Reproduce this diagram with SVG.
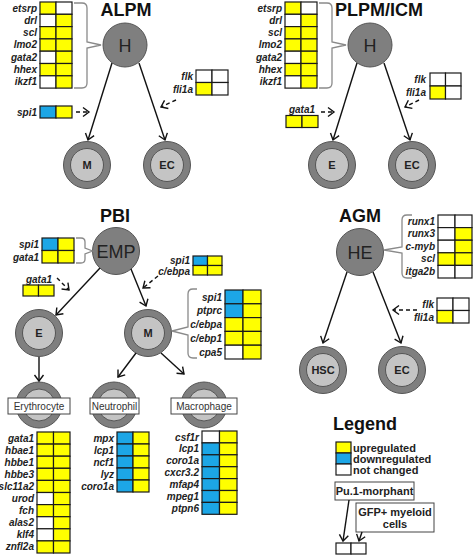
<svg xmlns="http://www.w3.org/2000/svg" width="474" height="557" viewBox="0 0 474 557">
<defs>
<marker id="ah" viewBox="-8 -6 10 12" markerWidth="10" markerHeight="12" refX="0" refY="0" orient="auto" markerUnits="userSpaceOnUse">
<path d="M-6,-4.5 L0,0 L-6,4.5" fill="none" stroke="#111" stroke-width="1.4"/>
</marker>
<style>
.y{fill:#ffff00;stroke:#1a1a1a;stroke-width:1.2}
.b{fill:#1ca6e6;stroke:#1a1a1a;stroke-width:1.2}
.w{fill:#ffffff;stroke:#1a1a1a;stroke-width:1.2}
.g{font-family:"Liberation Sans",Arial,sans-serif;font-size:10px;font-weight:bold;font-style:italic;fill:#222;text-anchor:end}
.gm{font-family:"Liberation Sans",Arial,sans-serif;font-size:10px;font-weight:bold;font-style:italic;fill:#222;text-anchor:middle}
.title{font-family:"Liberation Sans",Arial,sans-serif;font-size:18px;font-weight:bold;fill:#111;text-anchor:middle}
.big{font-family:"Liberation Sans",Arial,sans-serif;font-size:18px;fill:#222;text-anchor:middle}
.lbl{font-family:"Liberation Sans",Arial,sans-serif;font-size:11px;font-weight:bold;fill:#222;text-anchor:middle}
.box{font-family:"Liberation Sans",Arial,sans-serif;font-size:10px;fill:#333;text-anchor:middle}
.leg{font-family:"Liberation Sans",Arial,sans-serif;font-size:11px;font-weight:bold;fill:#222}
.legc{font-family:"Liberation Sans",Arial,sans-serif;font-size:11px;font-weight:bold;fill:#222;text-anchor:middle}
.sc{fill:#7f7f7f;stroke:#555;stroke-width:1}
.oc{fill:#7f7f7f;stroke:#555;stroke-width:1}
.ic{fill:#c4c4c4;stroke:#555;stroke-width:1}
.br{fill:none;stroke:#8a8a8a;stroke-width:1.3}
.ln{fill:none;stroke:#111;stroke-width:1.4}
.ds{fill:none;stroke:#111;stroke-width:1.4;stroke-dasharray:4,3}
.lb{fill:#fff;stroke:#444;stroke-width:1}
</style>
</defs>

<!-- ===== ALPM ===== -->
<g id="alpm">
<text class="title" x="126" y="16">ALPM</text>
<g id="alpm-table">
<rect class="y" x="40" y="2" width="16" height="12.3"/><rect class="w" x="56" y="2" width="16" height="12.3"/>
<rect class="w" x="40" y="14.3" width="16" height="12.3"/><rect class="y" x="56" y="14.3" width="16" height="12.3"/>
<rect class="y" x="40" y="26.6" width="16" height="12.3"/><rect class="y" x="56" y="26.6" width="16" height="12.3"/>
<rect class="y" x="40" y="38.9" width="16" height="12.3"/><rect class="y" x="56" y="38.9" width="16" height="12.3"/>
<rect class="w" x="40" y="51.2" width="16" height="12.3"/><rect class="y" x="56" y="51.2" width="16" height="12.3"/>
<rect class="y" x="40" y="63.5" width="16" height="12.3"/><rect class="y" x="56" y="63.5" width="16" height="12.3"/>
<rect class="w" x="40" y="75.8" width="16" height="12.3"/><rect class="y" x="56" y="75.8" width="16" height="12.3"/>
<text class="g" x="37" y="11.5">etsrp</text>
<text class="g" x="37" y="23.8">drl</text>
<text class="g" x="37" y="36.1">scl</text>
<text class="g" x="37" y="48.4">lmo2</text>
<text class="g" x="37" y="60.7">gata2</text>
<text class="g" x="37" y="73">hhex</text>
<text class="g" x="37" y="85.3">ikzf1</text>
<path class="br" d="M74,3 H82 Q87,3 87,8 V42 L101,45 L87,48 V83 Q87,88 82,88 H74"/>
</g>
<g id="alpm-H"><circle class="sc" cx="125" cy="45" r="22"/><text class="big" x="125" y="51.5">H</text></g>
<g id="alpm-flk">
<rect class="w" x="196" y="70" width="16" height="12.5"/><rect class="w" x="212" y="70" width="16" height="12.5"/>
<rect class="y" x="196" y="82.5" width="16" height="12.5"/><rect class="w" x="212" y="82.5" width="16" height="12.5"/>
<text class="g" x="193" y="80">flk</text>
<text class="g" x="193" y="92.5">fli1a</text>
</g>
<g id="alpm-spi1">
<rect class="b" x="40" y="106" width="16" height="12"/><rect class="y" x="56" y="106" width="16" height="12"/>
<text class="g" x="37" y="115.5">spi1</text>
</g>
<g id="alpm-M"><circle class="oc" cx="87" cy="165" r="23.5"/><circle class="ic" cx="87" cy="165" r="16.5"/><text class="lbl" x="87" y="169">M</text></g>
<g id="alpm-EC"><circle class="oc" cx="167" cy="165" r="23.5"/><circle class="ic" cx="167" cy="165" r="16.5"/><text class="lbl" x="167" y="169">EC</text></g>
</g>

<!-- ===== PLPM/ICM ===== -->
<g id="plpm">
<text class="title" x="379" y="16">PLPM/ICM</text>
<g id="plpm-table">
<rect class="y" x="285" y="2" width="16" height="12.3"/><rect class="w" x="301" y="2" width="16" height="12.3"/>
<rect class="w" x="285" y="14.3" width="16" height="12.3"/><rect class="y" x="301" y="14.3" width="16" height="12.3"/>
<rect class="y" x="285" y="26.6" width="16" height="12.3"/><rect class="y" x="301" y="26.6" width="16" height="12.3"/>
<rect class="y" x="285" y="38.9" width="16" height="12.3"/><rect class="y" x="301" y="38.9" width="16" height="12.3"/>
<rect class="w" x="285" y="51.2" width="16" height="12.3"/><rect class="y" x="301" y="51.2" width="16" height="12.3"/>
<rect class="y" x="285" y="63.5" width="16" height="12.3"/><rect class="y" x="301" y="63.5" width="16" height="12.3"/>
<rect class="w" x="285" y="75.8" width="16" height="12.3"/><rect class="y" x="301" y="75.8" width="16" height="12.3"/>
<text class="g" x="282" y="11.5">etsrp</text>
<text class="g" x="282" y="23.8">drl</text>
<text class="g" x="282" y="36.1">scl</text>
<text class="g" x="282" y="48.4">lmo2</text>
<text class="g" x="282" y="60.7">gata2</text>
<text class="g" x="282" y="73">hhex</text>
<text class="g" x="282" y="85.3">ikzf1</text>
<path class="br" d="M319,3 H327 Q332,3 332,8 V42 L346,45 L332,48 V83 Q332,88 327,88 H319"/>
</g>
<g id="plpm-H"><circle class="sc" cx="370" cy="45" r="22"/><text class="big" x="370" y="51.5">H</text></g>
<g id="plpm-flk">
<rect class="w" x="430" y="73" width="15.5" height="13"/><rect class="w" x="445.5" y="73" width="15.5" height="13"/>
<rect class="y" x="430" y="86" width="15.5" height="13"/><rect class="w" x="445.5" y="86" width="15.5" height="13"/>
<text class="g" x="426" y="83">flk</text>
<text class="g" x="426" y="96">fli1a</text>
</g>
<g id="plpm-gata1">
<rect class="y" x="286" y="115.5" width="16" height="12"/><rect class="y" x="302" y="115.5" width="16" height="12"/>
<text class="gm" x="302" y="113">gata1</text>
</g>
<g id="plpm-E"><circle class="oc" cx="332" cy="165" r="23.5"/><circle class="ic" cx="332" cy="165" r="16.5"/><text class="lbl" x="332" y="169">E</text></g>
<g id="plpm-EC"><circle class="oc" cx="412" cy="165" r="23.5"/><circle class="ic" cx="412" cy="165" r="16.5"/><text class="lbl" x="412" y="169">EC</text></g>
</g>

<!-- ===== PBI ===== -->
<g id="pbi">
<text class="title" x="115" y="222">PBI</text>
<g id="pbi-EMP"><circle class="sc" cx="116" cy="251" r="23.5"/><text class="big" x="116" y="257.5">EMP</text></g>
<g id="pbi-emp-table">
<rect class="b" x="42" y="238" width="16" height="12.5"/><rect class="y" x="58" y="238" width="16" height="12.5"/>
<rect class="y" x="42" y="250.5" width="16" height="12.5"/><rect class="y" x="58" y="250.5" width="16" height="12.5"/>
<text class="g" x="39" y="248">spi1</text>
<text class="g" x="39" y="260.5">gata1</text>
<path class="br" d="M76,238 H81 Q85,238 85,242 V248 L92.5,251 L85,254 V259 Q85,263 81,263 H76"/>
</g>
<g id="pbi-gata1">
<rect class="y" x="23" y="285" width="15.5" height="11"/><rect class="y" x="38.5" y="285" width="15.5" height="11"/>
<text class="gm" x="39" y="282.5">gata1</text>
</g>
<g id="pbi-spi1-cebpa">
<rect class="b" x="193" y="256" width="14.5" height="9.5"/><rect class="y" x="207.5" y="256" width="14.5" height="9.5"/>
<rect class="y" x="193" y="265.5" width="14.5" height="9.5"/><rect class="y" x="207.5" y="265.5" width="14.5" height="9.5"/>
<text class="g" x="190" y="264">spi1</text>
<text class="g" x="190" y="274.5">c/ebpa</text>
</g>
<g id="pbi-E"><circle class="oc" cx="39" cy="333" r="23.5"/><circle class="ic" cx="39" cy="333" r="16.5"/><text class="lbl" x="39" y="337">E</text></g>
<g id="pbi-M"><circle class="oc" cx="148" cy="333" r="23.5"/><circle class="ic" cx="148" cy="333" r="16.5"/><text class="lbl" x="148" y="337">M</text></g>
<g id="pbi-m-table">
<rect class="b" x="225" y="290" width="18" height="13.8"/><rect class="y" x="243" y="290" width="18" height="13.8"/>
<rect class="b" x="225" y="303.8" width="18" height="13.8"/><rect class="y" x="243" y="303.8" width="18" height="13.8"/>
<rect class="y" x="225" y="317.6" width="18" height="13.8"/><rect class="y" x="243" y="317.6" width="18" height="13.8"/>
<rect class="y" x="225" y="331.4" width="18" height="13.8"/><rect class="y" x="243" y="331.4" width="18" height="13.8"/>
<rect class="w" x="225" y="345.2" width="18" height="13.8"/><rect class="y" x="243" y="345.2" width="18" height="13.8"/>
<text class="g" x="222" y="300.5">spi1</text>
<text class="g" x="222" y="314.3">ptprc</text>
<text class="g" x="222" y="328.1">c/ebpa</text>
<text class="g" x="222" y="341.9">c/ebp1</text>
<text class="g" x="222" y="355.7">cpa5</text>
<path class="br" d="M197,289 H193 Q188,289 188,294 V327 L172,331 L188,335 V353 Q188,358 193,358 H197"/>
</g>
<g id="pbi-ery">
<circle class="oc" cx="39" cy="405" r="23"/><circle class="ic" cx="39" cy="405" r="16"/>
<rect class="lb" x="8" y="398" width="62" height="16"/>
<text class="box" x="39" y="409.5">Erythrocyte</text>
</g>
<g id="pbi-neu">
<circle class="oc" cx="114" cy="405" r="23"/><circle class="ic" cx="114" cy="405" r="16"/>
<rect class="lb" x="90" y="398" width="49" height="16"/>
<text class="box" x="114.5" y="409.5">Neutrophil</text>
</g>
<g id="pbi-mac">
<circle class="oc" cx="204" cy="405" r="23"/><circle class="ic" cx="204" cy="405" r="16"/>
<rect class="lb" x="171" y="398" width="66" height="16"/>
<text class="box" x="204" y="409.5">Macrophage</text>
</g>
<g id="ery-table">
<rect class="y" x="37" y="432" width="16.5" height="12.1"/><rect class="y" x="53.5" y="432" width="16.5" height="12.1"/>
<rect class="y" x="37" y="444.1" width="16.5" height="12.1"/><rect class="y" x="53.5" y="444.1" width="16.5" height="12.1"/>
<rect class="y" x="37" y="456.2" width="16.5" height="12.1"/><rect class="y" x="53.5" y="456.2" width="16.5" height="12.1"/>
<rect class="y" x="37" y="468.3" width="16.5" height="12.1"/><rect class="y" x="53.5" y="468.3" width="16.5" height="12.1"/>
<rect class="y" x="37" y="480.4" width="16.5" height="12.1"/><rect class="y" x="53.5" y="480.4" width="16.5" height="12.1"/>
<rect class="w" x="37" y="492.5" width="16.5" height="12.1"/><rect class="y" x="53.5" y="492.5" width="16.5" height="12.1"/>
<rect class="y" x="37" y="504.6" width="16.5" height="12.1"/><rect class="y" x="53.5" y="504.6" width="16.5" height="12.1"/>
<rect class="w" x="37" y="516.7" width="16.5" height="12.1"/><rect class="y" x="53.5" y="516.7" width="16.5" height="12.1"/>
<rect class="w" x="37" y="528.8" width="16.5" height="12.1"/><rect class="y" x="53.5" y="528.8" width="16.5" height="12.1"/>
<rect class="y" x="37" y="540.9" width="16.5" height="12.1"/><rect class="y" x="53.5" y="540.9" width="16.5" height="12.1"/>
<text class="g" x="34" y="441.5">gata1</text>
<text class="g" x="34" y="453.6">hbae1</text>
<text class="g" x="34" y="465.7">hbbe1</text>
<text class="g" x="34" y="477.8">hbbe3</text>
<text class="g" x="34" y="489.9">slc11a2</text>
<text class="g" x="34" y="502">urod</text>
<text class="g" x="34" y="514.1">fch</text>
<text class="g" x="34" y="526.2">alas2</text>
<text class="g" x="34" y="538.3">klf4</text>
<text class="g" x="34" y="550.4">znfl2a</text>
</g>
<g id="neu-table">
<rect class="b" x="117" y="432" width="16" height="12"/><rect class="y" x="133" y="432" width="16" height="12"/>
<rect class="b" x="117" y="444" width="16" height="12"/><rect class="y" x="133" y="444" width="16" height="12"/>
<rect class="b" x="117" y="456" width="16" height="12"/><rect class="y" x="133" y="456" width="16" height="12"/>
<rect class="b" x="117" y="468" width="16" height="12"/><rect class="y" x="133" y="468" width="16" height="12"/>
<rect class="b" x="117" y="480" width="16" height="12"/><rect class="y" x="133" y="480" width="16" height="12"/>
<text class="g" x="114" y="441.5">mpx</text>
<text class="g" x="114" y="453.5">lcp1</text>
<text class="g" x="114" y="465.5">ncf1</text>
<text class="g" x="114" y="477.5">lyz</text>
<text class="g" x="114" y="489.5">coro1a</text>
</g>
<g id="mac-table">
<rect class="w" x="202" y="431" width="17.5" height="11.9"/><rect class="y" x="219.5" y="431" width="17.5" height="11.9"/>
<rect class="b" x="202" y="442.9" width="17.5" height="11.9"/><rect class="y" x="219.5" y="442.9" width="17.5" height="11.9"/>
<rect class="b" x="202" y="454.8" width="17.5" height="11.9"/><rect class="y" x="219.5" y="454.8" width="17.5" height="11.9"/>
<rect class="b" x="202" y="466.7" width="17.5" height="11.9"/><rect class="y" x="219.5" y="466.7" width="17.5" height="11.9"/>
<rect class="b" x="202" y="478.6" width="17.5" height="11.9"/><rect class="y" x="219.5" y="478.6" width="17.5" height="11.9"/>
<rect class="b" x="202" y="490.5" width="17.5" height="11.9"/><rect class="y" x="219.5" y="490.5" width="17.5" height="11.9"/>
<rect class="b" x="202" y="502.4" width="17.5" height="11.9"/><rect class="y" x="219.5" y="502.4" width="17.5" height="11.9"/>
<text class="g" x="199" y="440.5">csf1r</text>
<text class="g" x="199" y="452.4">lcp1</text>
<text class="g" x="199" y="464.3">coro1a</text>
<text class="g" x="199" y="476.2">cxcr3.2</text>
<text class="g" x="199" y="488.1">mfap4</text>
<text class="g" x="199" y="500">mpeg1</text>
<text class="g" x="199" y="511.9">ptpn6</text>
</g>
</g>

<!-- ===== AGM ===== -->
<g id="agm">
<text class="title" x="360" y="222">AGM</text>
<g id="agm-HE"><circle class="sc" cx="360" cy="252" r="23.5"/><text class="big" x="360" y="258.5">HE</text></g>
<g id="agm-table">
<rect class="w" x="438" y="215" width="17" height="12.6"/><rect class="w" x="455" y="215" width="17" height="12.6"/>
<rect class="w" x="438" y="227.6" width="17" height="12.6"/><rect class="y" x="455" y="227.6" width="17" height="12.6"/>
<rect class="w" x="438" y="240.2" width="17" height="12.6"/><rect class="y" x="455" y="240.2" width="17" height="12.6"/>
<rect class="y" x="438" y="252.8" width="17" height="12.6"/><rect class="y" x="455" y="252.8" width="17" height="12.6"/>
<rect class="w" x="438" y="265.4" width="17" height="12.6"/><rect class="w" x="455" y="265.4" width="17" height="12.6"/>
<text class="g" x="435" y="224.5">runx1</text>
<text class="g" x="435" y="237.1">runx3</text>
<text class="g" x="435" y="249.7">c-myb</text>
<text class="g" x="435" y="262.3">scl</text>
<text class="g" x="435" y="274.9">itga2b</text>
<path class="br" d="M412,215 H407 Q402,215 402,220 V247 L384,250 L402,253 V273 Q402,278 407,278 H412"/>
</g>
<g id="agm-flk">
<rect class="w" x="437" y="298" width="16" height="12.5"/><rect class="w" x="453" y="298" width="16" height="12.5"/>
<rect class="y" x="437" y="310.5" width="16" height="12.5"/><rect class="w" x="453" y="310.5" width="16" height="12.5"/>
<text class="g" x="434" y="308">flk</text>
<text class="g" x="434" y="320.5">fli1a</text>
</g>
<g id="agm-HSC"><circle class="oc" cx="323" cy="370" r="23.5"/><circle class="ic" cx="323" cy="370" r="16.5"/><text class="lbl" x="323" y="374">HSC</text></g>
<g id="agm-EC"><circle class="oc" cx="402" cy="370" r="23.5"/><circle class="ic" cx="402" cy="370" r="16.5"/><text class="lbl" x="402" y="374">EC</text></g>
</g>

<!-- ===== Legend ===== -->
<g id="legend">
<text class="title" x="333" y="430" style="text-anchor:start">Legend</text>
<rect class="y" x="336" y="442" width="15" height="11"/>
<rect class="b" x="336" y="453" width="15" height="11"/>
<rect class="w" x="336" y="464" width="15" height="11"/>
<text class="leg" x="353" y="451.5">upregulated</text>
<text class="leg" x="353" y="462.5">downregulated</text>
<text class="leg" x="353" y="473.5">not changed</text>
<g id="leg-pu1"><rect class="lb" x="335" y="482" width="79" height="18"/><text class="legc" x="374.5" y="495">Pu.1-morphant</text></g>
<g id="leg-gfp"><rect class="lb" x="356" y="503" width="78" height="29"/><text class="legc" x="395" y="516">GFP+ myeloid</text><text class="legc" x="395" y="528">cells</text></g>
<g id="leg-cells"><rect class="w" x="336" y="543" width="15" height="11"/><rect class="w" x="351" y="543" width="15" height="11"/></g>
</g>

<!-- ===== Connectors ===== -->
<g id="connectors">
<line class="ln" x1="112" y1="63" x2="88" y2="140" marker-end="url(#ah)"/>
<line class="ln" x1="139" y1="63" x2="165" y2="140" marker-end="url(#ah)"/>
<line class="ds" x1="76" y1="112" x2="89" y2="112" marker-end="url(#ah)"/>
<line class="ds" x1="176" y1="100" x2="161" y2="107" marker-end="url(#ah)"/>

<line class="ln" x1="357" y1="63" x2="333" y2="140" marker-end="url(#ah)"/>
<line class="ln" x1="384" y1="63" x2="410" y2="140" marker-end="url(#ah)"/>
<line class="ds" x1="321" y1="112" x2="334" y2="112" marker-end="url(#ah)"/>
<line class="ds" x1="419" y1="100" x2="405" y2="107" marker-end="url(#ah)"/>

<line class="ln" x1="100" y1="268" x2="56" y2="315" marker-end="url(#ah)"/>
<line class="ln" x1="131" y1="269" x2="146" y2="306" marker-end="url(#ah)"/>
<line class="ds" x1="57" y1="278" x2="69" y2="290" marker-end="url(#ah)"/>
<line class="ds" x1="158" y1="276" x2="143" y2="288" marker-end="url(#ah)"/>
<line class="ln" x1="39" y1="357" x2="39" y2="381" marker-end="url(#ah)"/>
<line class="ln" x1="136" y1="353" x2="118" y2="377" marker-end="url(#ah)"/>
<line class="ln" x1="161" y1="353" x2="184" y2="374" marker-end="url(#ah)"/>

<line class="ln" x1="347" y1="272" x2="323" y2="343" marker-end="url(#ah)"/>
<line class="ln" x1="373" y1="272" x2="401" y2="343" marker-end="url(#ah)"/>
<line class="ds" x1="417" y1="310" x2="393" y2="310" marker-end="url(#ah)"/>

<line class="ln" x1="349" y1="500" x2="343" y2="541" marker-end="url(#ah)"/>
<line class="ln" x1="362" y1="532" x2="359" y2="541" marker-end="url(#ah)"/>
</g>
</svg>
